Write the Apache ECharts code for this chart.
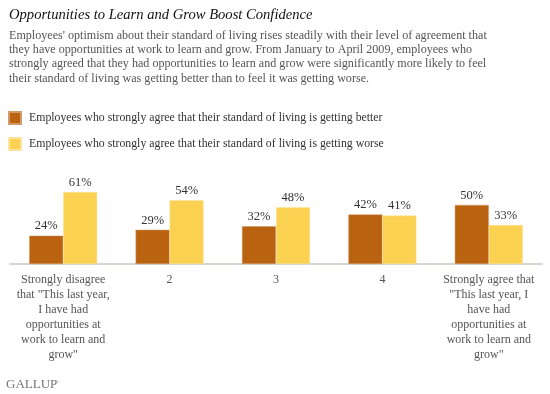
<!DOCTYPE html>
<html><head><meta charset="utf-8">
<script src="https://cdn.jsdelivr.net/npm/echarts@6/dist/echarts.min.js"></script>
<style>html,body{margin:0;padding:0;background:#fff}#c{width:550px;height:394px}</style>
</head><body><div id="c"></div>
<script>
const categories = [
  'Strongly disagree\nthat "This last year,\nI have had\nopportunities at\nwork to learn and\ngrow"',
  '2',
  '3',
  '4',
  'Strongly agree that\n"This last year, I\nhave had\nopportunities at\nwork to learn and\ngrow"'
];
const seriesNames = [
  'Employees who strongly agree that their standard of living is getting better',
  'Employees who strongly agree that their standard of living is getting worse'
];
const better = [24, 29, 32, 42, 50];
const worse = [61, 54, 48, 41, 33];
const titleText = 'Opportunities to Learn and Grow Boost Confidence';
const subText = "Employees' optimism about their standard of living rises steadily with their level of agreement that\nthey have opportunities at work to learn and grow. From January to April 2009, employees who\nstrongly agreed that they had opportunities to learn and grow were significantly more likely to feel\ntheir standard of living was getting better than to feel it was getting worse.";

const FONT = '"Liberation Serif", "DejaVu Serif", serif';
const chart = echarts.init(document.getElementById('c'), null, {renderer: 'canvas'});
chart.setOption({
  animation: false,
  color: ['#B9620F', '#FBD152'],
  legend: {
    orient: 'vertical', left: 8, top: 111, padding: 0,
    itemWidth: 12, itemHeight: 12, itemGap: 12,
    icon: 'rect',
    textStyle: {fontFamily: FONT, fontSize: 11.8, color: '#333', padding: [0, 0, 0, 3]},
    data: seriesNames
  },
  grid: {left: 10, right: 8, top: 146, height: 118, containLabel: false},
  xAxis: {
    type: 'category', data: categories,
    axisLine: {lineStyle: {color: '#D6D6D0', width: 2}},
    axisTick: {show: false},
    axisLabel: {interval: 0, fontFamily: FONT, fontSize: 12, color: '#555', lineHeight: 15, margin: 8}
  },
  yAxis: {type: 'value', min: 0, max: 100, show: false, splitLine: {show: false}},
  series: [
    {name: seriesNames[0], type: 'bar', data: better, barWidth: 34, barGap: '0%',
     itemStyle: {borderColor: '#D09A6A', borderWidth: 0.5},
     label: {show: true, position: 'top', distance: 3, formatter: '{c}%', fontFamily: FONT, fontSize: 12.5, color: '#333'}},
    {name: seriesNames[1], type: 'bar', data: worse, barWidth: 34, barGap: '0%',
     itemStyle: {borderColor: '#FDE3A0', borderWidth: 0.5},
     label: {show: true, position: 'top', distance: 3, formatter: '{c}%', fontFamily: FONT, fontSize: 12.5, color: '#333'}}
  ],
  graphic: [{
    type: 'text', left: 9, top: 8,
    style: {text: titleText, font: 'italic 14.6px ' + FONT, fill: '#111'}
  }, {
    type: 'text', left: 9, top: 29,
    style: {text: subText, font: '12.1px ' + FONT, fill: '#555', lineHeight: 14.1}
  }, {
    type: 'text', left: 6, top: 378,
    style: {text: 'GALLUP', font: '13px ' + FONT, fill: '#777'}
  }, {
    type: 'text', left: 55, top: 379,
    style: {text: '®', font: '6px ' + FONT, fill: '#999'}
  }]
});
</script></body></html>
